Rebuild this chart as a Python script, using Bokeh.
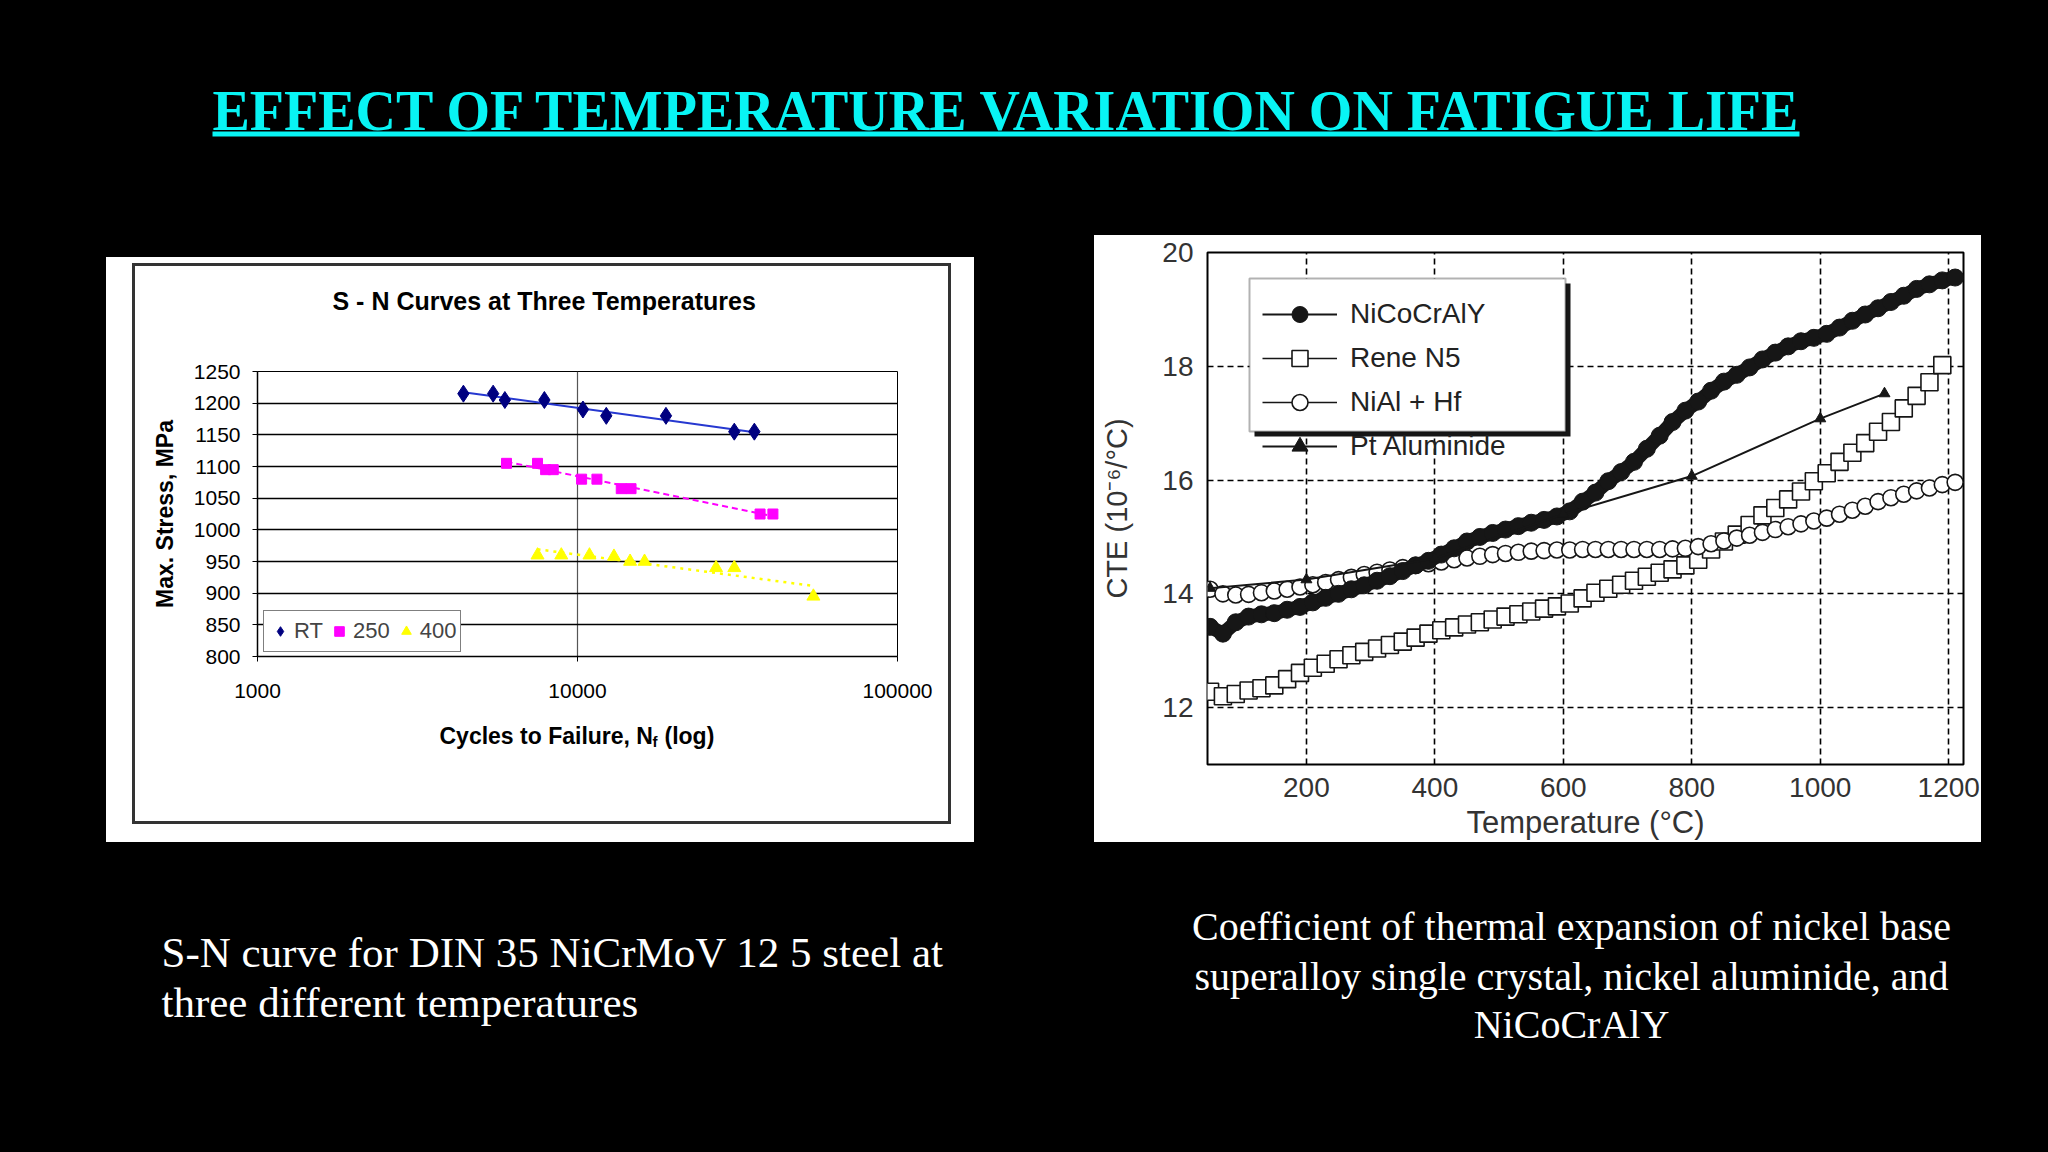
import numpy as np
from bokeh.embed import file_html
from bokeh.layouts import column, row
from bokeh.models import (BoxAnnotation, FixedTicker, Label, Legend, LegendItem,
                          NumeralTickFormatter, Range1d, Spacer)
from bokeh.plotting import figure
from bokeh.resources import INLINE

# ---------------------------------------------------------------- S-N data
rt_cycles = [4400, 5450, 5930, 7880, 10400, 12300, 18900, 30900, 35700]
rt_stress = [1215, 1215, 1205, 1205, 1190, 1180, 1180, 1155, 1155]

t250_cycles = [6000, 7500, 7950, 8400, 10300, 11500, 13700, 14700, 37200, 40800]
t250_stress = [1105, 1105, 1095, 1095, 1080, 1080, 1065, 1065, 1025, 1025]

t400_cycles = [7500, 8900, 10900, 13000, 14600, 16200, 27100, 30900, 54600]
t400_stress = [960, 960, 960, 958, 950, 950, 940, 940, 895]

stress_ticks = [800, 850, 900, 950, 1000, 1050, 1100, 1150, 1200, 1250]
cycle_ticks = [1000, 10000, 100000]

# ---------------------------------------------------------------- CTE data
cte_temp = [50, 70, 90, 110, 130, 150, 170, 190, 210, 230,
            250, 270, 290, 310, 330, 350, 370, 390, 410, 430,
            450, 470, 490, 510, 530, 550, 570, 590, 610, 630,
            650, 670, 690, 710, 730, 750, 770, 790, 810, 830,
            850, 870, 890, 910, 930, 950, 970, 990, 1010, 1030,
            1050, 1070, 1090, 1110, 1130, 1150, 1170, 1190, 1210]

nicocraly_cte = [13.42, 13.30, 13.50, 13.60, 13.64, 13.66, 13.72, 13.77, 13.85, 13.93,
                 14.00, 14.08, 14.15, 14.23, 14.31, 14.40, 14.50, 14.58, 14.69, 14.80,
                 14.92, 15.00, 15.07, 15.13, 15.19, 15.25, 15.30, 15.36, 15.45, 15.62,
                 15.78, 15.98, 16.14, 16.32, 16.55, 16.78, 17.02, 17.22, 17.38, 17.57,
                 17.73, 17.85, 17.98, 18.12, 18.24, 18.35, 18.44, 18.50, 18.57, 18.68,
                 18.80, 18.91, 19.02, 19.13, 19.24, 19.36, 19.44, 19.51, 19.56]

nial_cte = [14.08, 14.00, 13.98, 13.99, 14.02, 14.05, 14.08, 14.12, 14.16, 14.20,
            14.25, 14.29, 14.34, 14.38, 14.42, 14.46, 14.50, 14.53, 14.56, 14.60,
            14.63, 14.66, 14.69, 14.71, 14.73, 14.75, 14.76, 14.77, 14.77, 14.78,
            14.78, 14.78, 14.78, 14.78, 14.78, 14.78, 14.79, 14.80, 14.83, 14.88,
            14.93, 14.98, 15.03, 15.08, 15.13, 15.18, 15.23, 15.28, 15.33, 15.40,
            15.47, 15.54, 15.62, 15.69, 15.75, 15.81, 15.86, 15.92, 15.96]

rene_temp = [50, 70, 90, 110, 130, 150, 170, 190, 210, 230,
             250, 270, 290, 310, 330, 350, 370, 390, 410, 430,
             450, 470, 490, 510, 530, 550, 570, 590, 610, 630,
             650, 670, 690, 710, 730, 750, 770, 790, 810, 830,
             850, 870, 890, 910, 930, 950, 970, 990, 1010, 1030,
             1050, 1070, 1090, 1110, 1130, 1150, 1170, 1190]

rene_cte = [12.28, 12.20, 12.24, 12.30, 12.34, 12.39, 12.50, 12.61, 12.70, 12.77,
            12.85, 12.92, 12.98, 13.04, 13.10, 13.16, 13.23, 13.30, 13.36, 13.41,
            13.46, 13.50, 13.55, 13.60, 13.64, 13.69, 13.74, 13.78, 13.83, 13.92,
            14.02, 14.09, 14.16, 14.23, 14.30, 14.37, 14.43, 14.50, 14.60, 14.78,
            14.92, 15.04, 15.21, 15.38, 15.51, 15.66, 15.80, 15.98, 16.12, 16.32,
            16.48, 16.65, 16.85, 17.02, 17.26, 17.48, 17.72, 18.02]

pt_temp = [50, 200, 400, 600, 800, 1000, 1100]
pt_cte = [14.10, 14.25, 14.62, 15.40, 16.07, 17.08, 17.52]

temp_ticks = [200, 400, 600, 800, 1000, 1200]
cte_ticks = [12, 14, 16, 18, 20]

# ---------------------------------------------------------------- text
TITLE = "EFFECT OF TEMPERATURE VARIATION ON FATIGUE LIFE"
CAPTION_LEFT = ["S-N curve for DIN 35 NiCrMoV 12 5 steel at",
                "three different temperatures"]
CAPTION_RIGHT = ["Coefficient of thermal expansion of nickel base",
                 "superalloy single crystal, nickel aluminide, and",
                 "NiCoCrAlY"]

CYAN = "#08F4F4"
SANS = "Liberation Sans"
SERIF = "Liberation Serif"
INK = "#161616"
FRAME = "#333333"
WHITE_BG = {"background-color": "white"}


def trend(cycles, stress):
    """Least-squares line of stress against log10(cycles)."""
    lx = np.log10(cycles)
    k, b = np.polyfit(lx, stress, 1)
    xs = np.array([min(cycles), max(cycles)], dtype=float)
    return xs, k * np.log10(xs) + b


def own_frame(f):
    """Keep a figure's frame independent of its neighbours in a layout."""
    try:
        f.frame_align = False
    except Exception:
        pass
    return f


def blank(w, h, fill="black"):
    """A plain drawing surface whose data units are pixels."""
    f = figure(width=w, height=h, x_range=Range1d(0, w), y_range=Range1d(0, h),
               output_backend="svg", toolbar_location=None, min_border=0,
               x_axis_location=None, y_axis_location=None,
               background_fill_color=fill, border_fill_color=fill,
               outline_line_color=None, styles={"background-color": fill})
    f.grid.visible = False
    return own_frame(f)


def patch(w, h, color):
    return Spacer(width=w, height=h, styles={"background-color": color})


# ---------------------------------------------------------------- heading
head = blank(2048, 235)
head.add_layout(Label(x=212, y=125, text=TITLE, text_font=SERIF, text_font_style="bold",
                      text_font_size="56px", text_color=CYAN, text_align="left",
                      text_baseline="alphabetic"))
head.add_layout(BoxAnnotation(left=212, right=1799, bottom=99, top=104,
                              fill_color=CYAN, fill_alpha=1, line_color=None))

# ---------------------------------------------------------------- S-N chart
sn_title = blank(813, 77, fill="white")
sn_title.add_layout(Label(x=197, y=43, text="S - N Curves at Three Temperatures",
                          text_font=SANS, text_font_style="bold", text_font_size="25px",
                          text_color="black", text_align="left", text_baseline="middle"))

sn = figure(width=813, height=369, x_axis_type="log",
            x_range=Range1d(1000, 100000), y_range=Range1d(800, 1250),
            output_backend="svg", toolbar_location=None,
            min_border_left=122, min_border_right=51, min_border_top=28, min_border_bottom=56,
            background_fill_color="white", border_fill_color="white",
            outline_line_color="black", outline_line_width=1, styles=WHITE_BG)
own_frame(sn)
sn.xaxis.ticker = FixedTicker(ticks=cycle_ticks)
sn.yaxis.ticker = FixedTicker(ticks=stress_ticks)
sn.xaxis.formatter = NumeralTickFormatter(format="0")
sn.axis.minor_tick_line_color = None
sn.axis.major_tick_out = 5
sn.axis.major_tick_in = 0
sn.axis.axis_line_color = "black"
sn.axis.axis_line_width = 1.5
sn.axis.major_label_text_font = SANS
sn.axis.major_label_text_font_size = "21px"
sn.axis.major_label_text_color = "black"
sn.xaxis.major_label_standoff = 22
sn.yaxis.major_label_standoff = 12
sn.yaxis.axis_label = "Max. Stress, MPa"
sn.yaxis.axis_label_text_font = SANS
sn.yaxis.axis_label_text_font_style = "bold"
sn.yaxis.axis_label_text_font_size = "23px"
sn.yaxis.axis_label_text_color = "black"
sn.yaxis.axis_label_standoff = 13
sn.ygrid.grid_line_color = "black"
sn.ygrid.grid_line_width = 1.4
sn.xgrid.grid_line_color = "#555555"
sn.xgrid.grid_line_width = 1.2

fx, fy = trend(rt_cycles, rt_stress)
sn.line(fx, fy, line_color="#2638D0", line_width=2)
fx, fy = trend(t250_cycles, t250_stress)
sn.line(fx, fy, line_color="#FF00FF", line_width=2, line_dash="6 4")
fx, fy = trend(t400_cycles, t400_stress)
sn.line(fx, fy, line_color="#FFFF00", line_width=2.5, line_dash="3 5")

rt_r = sn.scatter(rt_cycles, rt_stress, marker="diamond", size=17,
                  fill_color="#000080", line_color="#000080")
m_r = sn.scatter(t250_cycles, t250_stress, marker="square", size=10,
                 fill_color="#FF00FF", line_color="#FF00FF")
y_r = sn.scatter(t400_cycles, t400_stress, marker="triangle", size=13,
                 fill_color="#FFFF00", line_color="#FFFF00")

sn_leg = Legend(items=[LegendItem(label="RT", renderers=[rt_r]),
                       LegendItem(label="250", renderers=[m_r]),
                       LegendItem(label="400", renderers=[y_r])],
                orientation="horizontal", location=(6, 4), margin=0, padding=4,
                spacing=4, label_standoff=2, glyph_width=24, glyph_height=28,
                label_height=32, label_text_font=SANS, label_text_font_size="22px",
                border_line_color="black", border_line_width=1.5,
                background_fill_color="white", background_fill_alpha=1)
sn.add_layout(sn_leg)

# x title with a subscript f after the N
sn_xtitle = blank(813, 109, fill="white")
sn_xtitle.add_layout(Label(x=304, y=86, text="Cycles to Failure, N", text_font=SANS,
                           text_font_style="bold", text_font_size="23px", text_color="black",
                           text_align="left", text_baseline="middle"))
sn_xtitle.add_layout(Label(x=517, y=80, text="f", text_font=SANS, text_font_style="bold",
                           text_font_size="15px", text_color="black",
                           text_align="left", text_baseline="middle"))
sn_xtitle.add_layout(Label(x=529, y=86, text="(log)", text_font=SANS, text_font_style="bold",
                           text_font_size="23px", text_color="black",
                           text_align="left", text_baseline="middle"))

# white card with a thin dark frame around the chart
sn_inner = column(patch(813, 3, FRAME), sn_title, sn, sn_xtitle, patch(813, 3, FRAME),
                  styles=WHITE_BG)
sn_panel = column(patch(868, 6, "white"),
                  row(patch(26, 561, "white"), patch(3, 561, FRAME), sn_inner,
                      patch(3, 561, FRAME), patch(23, 561, "white"), styles=WHITE_BG),
                  patch(868, 18, "white"),
                  styles=WHITE_BG)

# ---------------------------------------------------------------- CTE chart
cte = figure(width=887, height=607, x_range=Range1d(46, 1223), y_range=Range1d(11, 20),
             output_backend="svg", toolbar_location=None,
             min_border_left=113, min_border_right=18, min_border_top=17, min_border_bottom=78,
             background_fill_color="white", border_fill_color="white",
             outline_line_color="black", outline_line_width=2, styles=WHITE_BG)
own_frame(cte)
cte.xaxis.ticker = FixedTicker(ticks=temp_ticks)
cte.yaxis.ticker = FixedTicker(ticks=cte_ticks)
cte.axis.axis_line_color = None
cte.axis.major_tick_line_color = None
cte.axis.minor_tick_line_color = None
cte.axis.major_tick_out = 0
cte.axis.major_tick_in = 0
cte.axis.major_label_text_font = SANS
cte.axis.major_label_text_font_size = "28px"
cte.axis.major_label_text_color = "#333333"
cte.xaxis.major_label_standoff = 13
cte.yaxis.major_label_standoff = 14
cte.axis.axis_label_text_font = SANS
cte.axis.axis_label_text_font_style = "normal"
cte.axis.axis_label_text_color = "#333333"
cte.xaxis.axis_label = "Temperature (°C)"
cte.xaxis.axis_label_text_font_size = "31px"
cte.xaxis.axis_label_standoff = 5
cte.yaxis.axis_label = "CTE (10⁻⁶/°C)"
cte.yaxis.axis_label_text_font_size = "29px"
cte.yaxis.axis_label_standoff = 26
cte.grid.grid_line_color = "black"
cte.grid.grid_line_dash = "6 4"
cte.grid.grid_line_width = 1.6

rene_line = cte.line(rene_temp, rene_cte, line_color=INK, line_width=1.5)
rene_pts = cte.scatter(rene_temp, rene_cte, marker="square", size=17,
                       fill_color="white", line_color=INK, line_width=1.6)
nial_line = cte.line(cte_temp, nial_cte, line_color=INK, line_width=1.5)
nial_pts = cte.scatter(cte_temp, nial_cte, marker="circle", size=16,
                       fill_color="white", line_color=INK, line_width=1.6)
# thick band of overlapping markers, with a thin centre line for the key
cte.line(cte_temp, nicocraly_cte, line_color=INK, line_width=14)
nico_line = cte.line(cte_temp, nicocraly_cte, line_color=INK, line_width=2)
nico_pts = cte.scatter(cte_temp, nicocraly_cte, marker="circle", size=17,
                       fill_color=INK, line_color=INK)
pt_line = cte.line(pt_temp, pt_cte, line_color=INK, line_width=2)
pt_pts = cte.scatter(pt_temp, pt_cte, marker="triangle", size=11,
                     fill_color=INK, line_color=INK)

box_units = dict(left_units="screen", right_units="screen",
                 top_units="screen", bottom_units="screen")
cte.add_layout(BoxAnnotation(left=47, right=363, top=481, bottom=328,
                             fill_color=INK, fill_alpha=1, line_color=None, **box_units))
cte.add_layout(BoxAnnotation(left=42, right=358, top=486, bottom=333,
                             fill_color="white", fill_alpha=1, line_color="black",
                             line_width=2, **box_units))

cte_leg = Legend(items=[LegendItem(label="NiCoCrAlY", renderers=[nico_line, nico_pts]),
                        LegendItem(label="Rene N5", renderers=[rene_line, rene_pts]),
                        LegendItem(label="NiAl + Hf", renderers=[nial_line, nial_pts]),
                        LegendItem(label="Pt Aluminide", renderers=[pt_line, pt_pts])],
                 location=(55, 298), margin=0, padding=16, spacing=4,
                 glyph_width=75, glyph_height=40, label_height=30, label_standoff=13,
                 label_text_font=SANS, label_text_font_size="28px", label_text_color="#222222",
                 border_line_color=None, background_fill_alpha=0)
cte.add_layout(cte_leg)

# ---------------------------------------------------------------- captions
foot = blank(2048, 310)
for text, y in zip(CAPTION_LEFT, [200, 150]):
    foot.add_layout(Label(x=161, y=y, text=text, text_font=SERIF, text_font_size="43px",
                          text_color="white", text_align="left", text_baseline="middle"))
for text, y in zip(CAPTION_RIGHT, [226, 176, 128]):
    foot.add_layout(Label(x=1571, y=y, text=text, text_font=SERIF, text_font_size="40px",
                          text_color="white", text_align="center", text_baseline="middle"))

# ---------------------------------------------------------------- page
left_block = column(Spacer(width=868, height=22), sn_panel)
middle = row(Spacer(width=106, height=607), left_block, Spacer(width=120, height=607),
             cte, Spacer(width=67, height=607))
page = column(head, middle, foot, styles={"background-color": "black"})

open("out.html", "w").write(file_html(page, INLINE))
